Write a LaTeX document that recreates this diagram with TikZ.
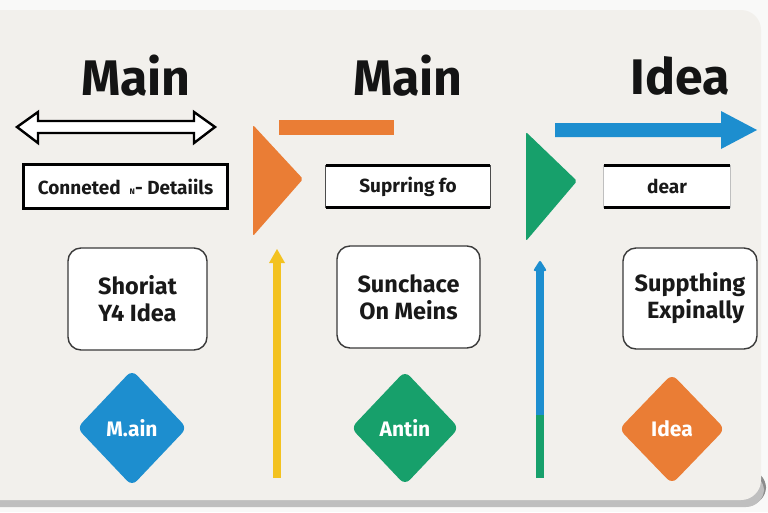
\documentclass[tikz,border=0pt]{standalone}
\usepackage{fontspec}
\setmainfont{Fira Sans}
\usetikzlibrary{shapes.geometric}
\definecolor{outerbg}{HTML}{F9F9F8}
\definecolor{panelbg}{HTML}{F2F0EC}
\definecolor{cblue}{HTML}{1D8ECF}
\definecolor{cgreen}{HTML}{17A06B}
\definecolor{corange}{HTML}{EA7D35}
\definecolor{cyellow}{HTML}{F3C220}
\definecolor{edgegray}{HTML}{3A3A3A}
\tikzset{
  title/.style={font=\bfseries\fontsize{50}{54}\selectfont, text=black!92, inner sep=0},
  labeltext/.style={font=\bfseries\fontsize{19}{22}\selectfont, text=black!90, inner sep=0},
  rbox/.style={draw=edgegray, line width=1.4pt, fill=white, rounded corners=13pt,
    align=center, font=\bfseries\fontsize{23.5}{27}\selectfont, text=black!90, inner sep=0},
  dmd/.style={diamond, inner sep=0, rounded corners=7pt, text=white,
    font=\bfseries\fontsize{21}{24}\selectfont},
  flatbox/.style={fill=white, inner sep=0},
}
\begin{document}
\begin{tikzpicture}[x=1pt,y=-1pt]
\useasboundingbox (0,0) rectangle (768,512);
% backgrounds
\fill[outerbg] (0,0) rectangle (768,512);
\fill[black!45, rounded corners=18pt] (-20,470) rectangle (766,505);
\fill[black!25, rounded corners=18pt] (-20,473) rectangle (764,507);
\fill[panelbg, rounded corners=20pt] (-20,10) rectangle (761,500);

% titles
\node[title] (t1) at (136,76) {Main};
\node[title] (t2) at (408,76) {Main};
\node[title] (t3) at (680,76) {Idea};

% top row shapes
\draw[line width=2.4pt, fill=white, line join=miter]
  (17,127) -- (38,112) -- (38,121) -- (194,121) -- (194,112) -- (215,127)
  -- (194,143) -- (194,133) -- (38,133) -- (38,143) -- cycle;
\fill[corange] (279,120) rectangle (394,135);
\fill[cblue] (555,123) -- (721,123) -- (721,111) -- (757,130) -- (721,149) -- (721,137) -- (555,137) -- cycle;
\fill[corange, rounded corners=2pt] (253,125) -- (303,179) -- (253,236) -- cycle;
\fill[cgreen, rounded corners=2pt] (526,132) -- (577,181) -- (526,241) -- cycle;

% flat label boxes
\node[flatbox, minimum width=203, minimum height=43] (b1) at (125.5,186.5) {};
\draw[line width=3pt] (b1.north west) rectangle (b1.south east);
\node[labeltext] (b1t) at (b1) {Conneted\ \ {\footnotesize N}- Detaiils};

\node[flatbox, minimum width=164, minimum height=42] (b2) at (408,186.5) {};
\draw[line width=1.3pt, black!70] (b2.north west) -- (b2.south west) (b2.north east) -- (b2.south east);
\draw[line width=3pt] (b2.north west) -- (b2.north east) (b2.south west) -- (b2.south east);
\node[labeltext] (b2t) at (b2) {Suprring fo};

\node[flatbox, minimum width=126, minimum height=42] (b3) at (667,186.5) {};
\draw[line width=1pt, black!25] (b3.north west) -- (b3.south west) (b3.north east) -- (b3.south east);
\draw[line width=3pt] (b3.north west) -- (b3.north east) (b3.south west) -- (b3.south east);
\node[labeltext] (b3t) at (b3) {dear};

% rounded boxes
\node[rbox, minimum width=139, minimum height=102] (r1) at (137.5,299) {Shoriat\\Y4 Idea};
\node[rbox, minimum width=143, minimum height=102] (r2) at (408.5,297) {Sunchace\\On Meins};
\node[rbox, minimum width=134, minimum height=101] (r3) at (690,298.5) {Suppthing\\\ \ Expinally};

% vertical arrows
\coordinate (y0) at (277,478);
\coordinate (y1) at (277,262);
\coordinate (yt) at (277,249);
\draw[cyellow, line width=8pt] (y0) -- (y1);
\fill[cyellow] (yt) -- (285,263) -- (269,263) -- cycle;

\coordinate (g0) at (540,478);
\coordinate (gm) at (540,415);
\coordinate (bt) at (540,268);
\draw[cgreen, line width=8pt] (g0) -- (gm);
\draw[cblue, line width=8pt] (gm) -- (bt);
\fill[cblue, rounded corners=2pt] (540,260) -- (547,271) -- (533,271) -- cycle;

% diamonds
\node[dmd, fill=cblue, minimum width=110, minimum height=116] (d1) at (132,428) {M.ain};
\node[dmd, fill=cgreen, minimum width=108, minimum height=114] (d2) at (405,428) {Antin};
\node[dmd, fill=corange, minimum width=106, minimum height=110] (d3) at (672,429) {Idea};
\end{tikzpicture}
\end{document}
